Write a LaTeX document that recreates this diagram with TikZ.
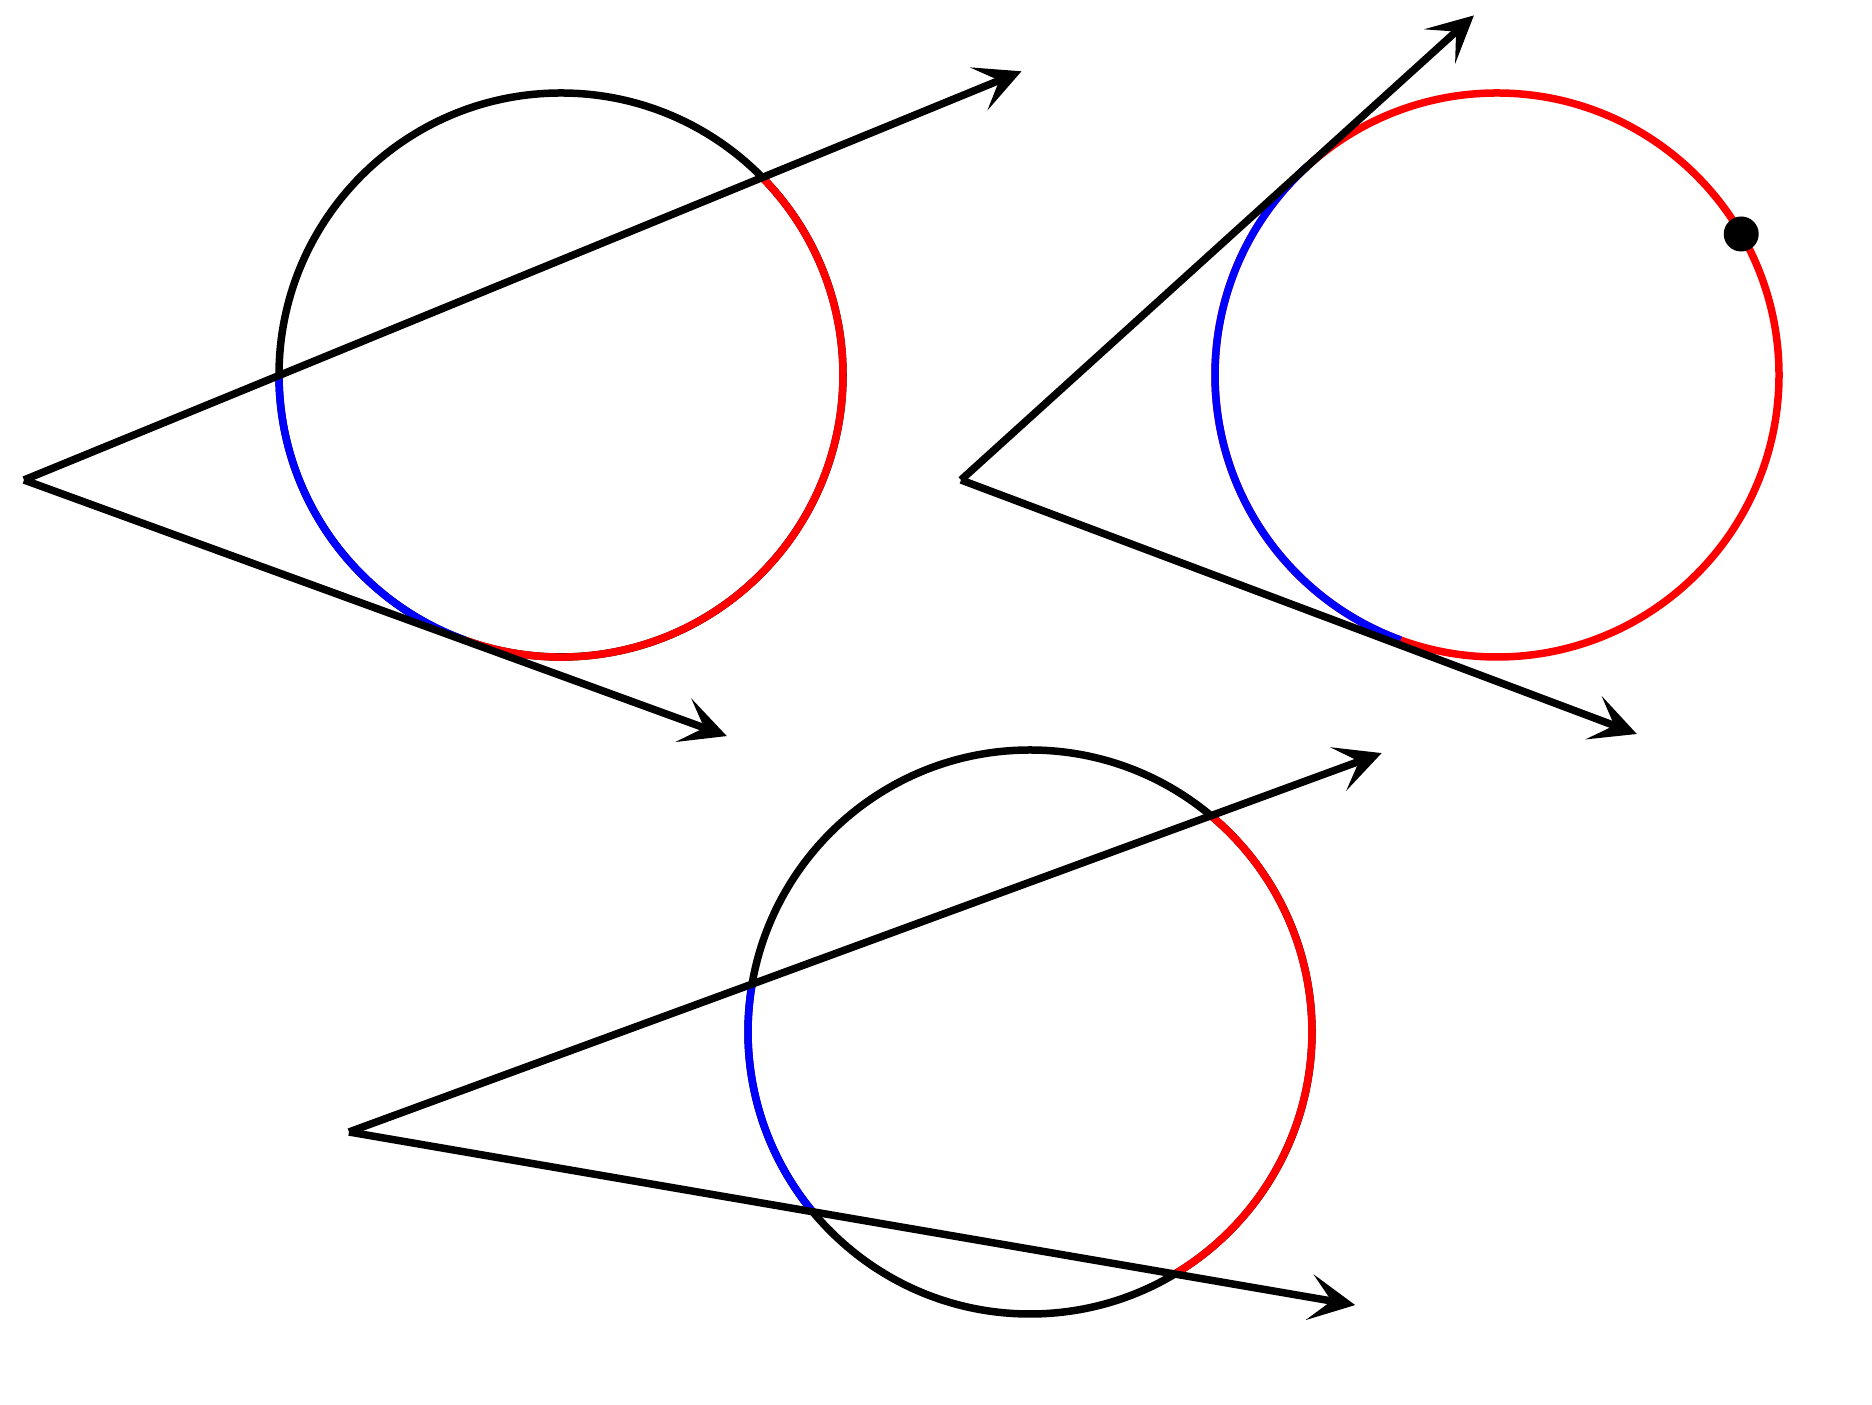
\documentclass[tikz,border=0pt]{standalone}
\usetikzlibrary{arrows.meta,calc}
\begin{document}
\begin{tikzpicture}[x=1pt,y=1pt,line width=7.5pt,
  ray/.style={draw=black,-{Stealth[length=46pt,width=46pt,inset=22pt]}},
  rim/.style={line width=7.5pt},
  dotmark/.style={circle,fill=black,inner sep=0pt,minimum size=35pt}]
\useasboundingbox (0,0) rectangle (1872,1405);
\def\R{282}
% ---------- figure 1 : secant and tangent ----------
\coordinate (V1) at (24,925);
\coordinate (O1) at (561,1030);
\draw[rim,black] (O1) circle[radius=\R];
\draw[rim,blue]  ($(O1)+(180.1:\R)$) arc[start angle=180.1,end angle=249.98,radius=\R];
\draw[rim,red]   ($(O1)+(249.98:\R)$) arc[start angle=249.98,end angle=404.5,radius=\R];
\coordinate (U1) at ($(V1)+(22.28:1078)$);
\coordinate (L1) at ($(V1)+(-20.02:748)$);
\draw[ray] (V1) -- (U1);
\draw[ray] (V1) -- (L1);
% ---------- figure 2 : two tangents ----------
\coordinate (V2) at (961,925);
\coordinate (O2) at (1497,1030);
\draw[rim,red]  (O2) circle[radius=\R];
\draw[rim,blue] ($(O2)+(132.17:\R)$) arc[start angle=132.17,end angle=249.99,radius=\R];
\coordinate (U2) at ($(V2)+(42.17:692)$);
\coordinate (L2) at ($(V2)+(-20.6:722)$);
\draw[ray] (V2) -- (U2);
\draw[ray] (V2) -- (L2);
\node[dotmark] (D2) at ($(O2)+(30:\R)$) {};
% ---------- figure 3 : two secants ----------
\coordinate (V3) at (349,273);
\coordinate (O3) at (1030,373);
\draw[rim,black] (O3) circle[radius=\R];
\draw[rim,blue]  ($(O3)+(170.22:\R)$) arc[start angle=170.22,end angle=219.6,radius=\R];
\draw[rim,red]   ($(O3)+(300.88:\R)$) arc[start angle=300.88,end angle=410.08,radius=\R];
\coordinate (U3) at ($(V3)+(20.15:1100)$);
\coordinate (L3) at ($(V3)+(-9.76:1021)$);
\draw[ray] (V3) -- (U3);
\draw[ray] (V3) -- (L3);
\end{tikzpicture}
\end{document}
